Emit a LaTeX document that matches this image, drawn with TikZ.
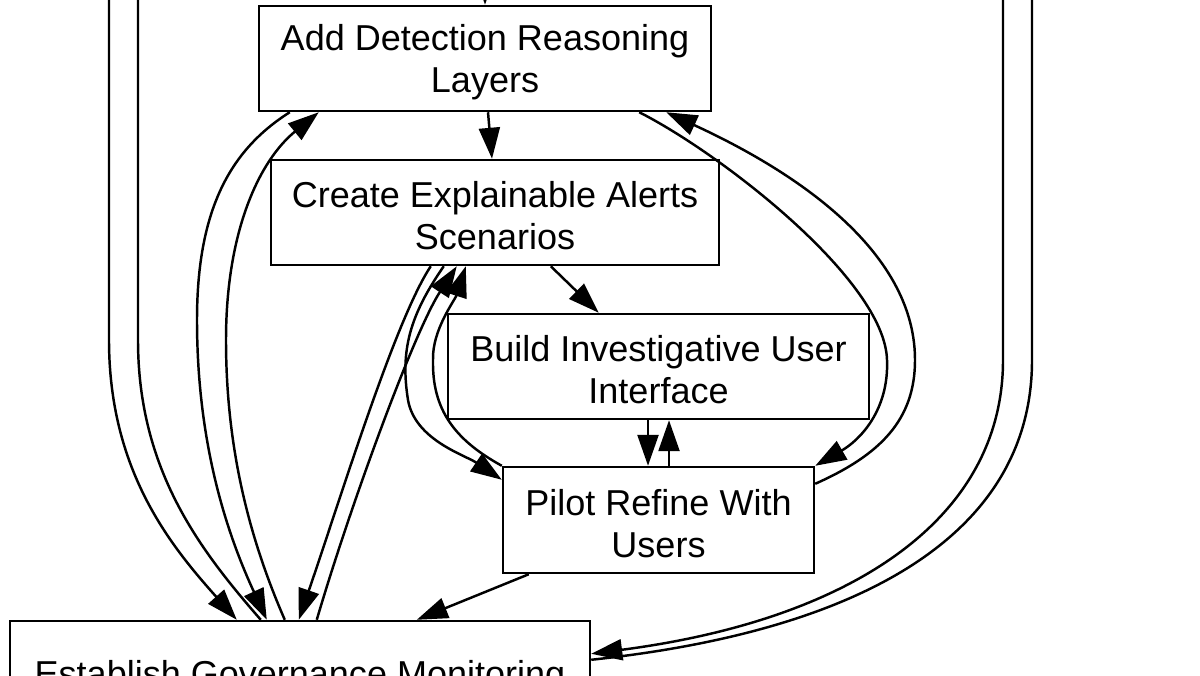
\documentclass[tikz,border=0pt]{standalone}
\usepackage{fontspec}
\setmainfont{Liberation Sans}
\usetikzlibrary{arrows.meta,positioning,calc}
\newcommand\fel{\rule{0pt}{18.5pt}}
\tikzset{
  lepes/.style={draw,line width=1.4pt,minimum height=21mm,inner sep=0pt,align=center,
    font=\fontsize{20.5}{23.9}\selectfont},
  el/.style={line width=1.4pt,-{Triangle[length=6.2mm,width=4.2mm]}},
}

\begin{document}
\begin{tikzpicture}[x=0.2mm,y=-0.2mm]
  \useasboundingbox (0,0) rectangle (1200,675);
  \clip (0,0) rectangle (1200,675);
  \node[lepes,minimum width=90.4mm] (add) at (485,58.5) {\fel Add Detection Reasoning\\Layers};
  \node[lepes,minimum width=89.6mm] (create) at (495,212.5) {\fel Create Explainable Alerts\\Scenarios};
  \node[lepes,minimum width=84.2mm] (build) at (658.5,366.5) {\fel Build Investigative User\\Interface};
  \node[lepes,minimum width=62.2mm,minimum height=21.2mm] (pilot) at (658.5,520) {\fel Pilot Refine With\\Users};
  \node[lepes,minimum width=116mm] (estab) at (300,673.5) {\fel Establish Governance Monitoring};
  \coordinate (felso) at (485,-80);
  \coordinate (bal1) at (109,-80); \coordinate (bal2) at (138,-80);
  \coordinate (jobb1) at (1003,-80); \coordinate (jobb2) at (1032,-80);

  \draw[el] (felso) -- (add.north);
  \draw[el] ($(add.south)+(3,0)$) -- ($(create.north)+(-3,0)$);
  \draw[el] ($(create.south west)+(281,0)$) -- ($(build.north west)+(152,0)$);
  \draw[el] ($(build.south)+(-10.5,0)$) -- ($(pilot.north)+(-10.5,0)$);
  \draw[el] ($(pilot.north)+(10.5,0)$) -- ($(build.south)+(10.5,0)$);
  \draw[el] ($(pilot.south west)+(27,0)$) -- ($(estab.north west)+(408,0)$);

  \draw[el] (bal1) -- (109,340) .. controls (109,470) and (170,545) .. ($(estab.north west)+(228,0)$);
  \draw[el] ($(estab.north west)+(252,0)$) .. controls (200,550) and (138,470) .. (138,340) -- (bal2);
  \draw[el] ($(add.south west)+(32,0)$) .. controls (230,150) and (197,210) .. (197,320)
    .. controls (197,450) and (230,540) .. ($(estab.north west)+(258,0)$);
  \draw[el] ($(estab.north west)+(276,0)$) .. controls (250,540) and (226,450) .. (226,340)
    .. controls (226,230) and (260,160) .. ($(add.south west)+(61,0)$);
  \draw[el] ($(create.south west)+(161,0)$) .. controls (395,320) and (340,500) .. ($(estab.north west)+(290,0)$);
  \draw[el] ($(estab.north west)+(308,0)$) .. controls (352,500) and (415,330) .. ($(create.south west)+(187,0)$);
  \draw[el] ($(create.south west)+(174,0)$) .. controls (410,315) and (400,350) .. (408,400)
    .. controls (415,440) and (465,455) .. ($(pilot.north west)+(0,14)$);
  \draw[el] (pilot.north west) .. controls (455,440) and (432,410) .. (433,360)
    .. controls (432,330) and (455,300) .. ($(create.south west)+(196,0)$);
  \draw[el] ($(add.south east)+(-73,0)$) .. controls (720,153) and (885,280) .. (887,360)
    .. controls (889,410) and (860,440) .. (pilot.north east);
  \draw[el] ($(pilot.north east)+(0,18)$) .. controls (880,455) and (915,420) .. (915,360)
    .. controls (915,240) and (770,160) .. ($(add.south east)+(-46,0)$);
  \draw[el] (jobb1) -- (1003,360) .. controls (1003,520) and (850,620) .. ($(estab.north east)+(0,34)$);
  \draw[el] ($(estab.north east)+(0,40)$) .. controls (870,630) and (1032,530) .. (1032,360) -- (jobb2);
\end{tikzpicture}
\end{document}
